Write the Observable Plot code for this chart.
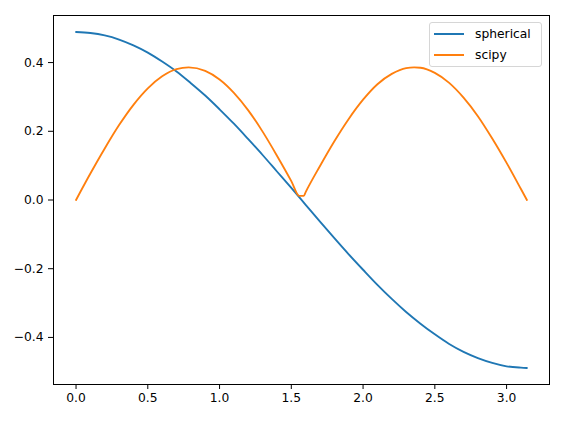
<!DOCTYPE html>
<html>
<head>
<meta charset="utf-8">
<script src="https://cdn.jsdelivr.net/npm/d3@7"></script>
<script src="https://cdn.jsdelivr.net/npm/@observablehq/plot@0.6"></script>
<style>
  body { margin: 0; background: #fff; font-family: "DejaVu Sans", sans-serif; }
  #grafico { position: relative; width: 567px; height: 435px; }
  #leyenda {
    position: absolute; left: 429px; top: 22px; width: 113px; height: 45px;
    box-sizing: border-box; border: 1px solid #d6d6d6; border-radius: 3px;
    background: rgba(255,255,255,0.8); font-size: 12.3px; color: #000;
  }
  .fila { position: absolute; left: 4px; height: 16px; display: flex; align-items: center; }
  .muestra { width: 30px; height: 2px; margin-right: 11px; }
</style>
</head>
<body>
<div id="grafico">
  <div id="leyenda">
    <div class="fila" style="top:3px"><div class="muestra" style="background:#1f77b4"></div>spherical</div>
    <div class="fila" style="top:24px"><div class="muestra" style="background:#ff7f0e"></div>scipy</div>
  </div>
</div>
<script>
// valores
const xSpherical = [0, 0.1, 0.2, 0.3, 0.4, 0.5, 0.6, 0.7, 0.8, 0.9, 1.0, 1.1, 1.2, 1.3, 1.4, 1.5,
  1.6, 1.7, 1.8, 1.9, 2.0, 2.1, 2.2, 2.3, 2.4, 2.5, 2.6, 2.7, 2.8, 2.9, 3.0, 3.1, 3.1416];
const ySpherical = [0.489, 0.486, 0.479, 0.467, 0.450, 0.429, 0.403, 0.374, 0.340, 0.304, 0.264, 0.222, 0.177, 0.131, 0.083, 0.035,
  -0.014, -0.063, -0.111, -0.158, -0.203, -0.247, -0.288, -0.326, -0.360, -0.391, -0.419, -0.442, -0.460, -0.474, -0.484, -0.488, -0.489];

const xScipy = [0, 0.1, 0.2, 0.3, 0.4, 0.5, 0.6, 0.7, 0.785, 0.9, 1.0, 1.1, 1.2, 1.3, 1.4, 1.5, 1.555,
  1.587, 1.6, 1.7, 1.8, 1.9, 2.0, 2.1, 2.2, 2.3, 2.356, 2.4, 2.5, 2.6, 2.7, 2.8, 2.9, 3.0, 3.1, 3.1416];
const yScipy = [0, 0.077, 0.150, 0.218, 0.277, 0.325, 0.360, 0.381, 0.386, 0.376, 0.351, 0.312, 0.261, 0.199, 0.129, 0.055, 0.012,
  0.012, 0.023, 0.099, 0.171, 0.236, 0.292, 0.337, 0.367, 0.384, 0.386, 0.385, 0.370, 0.341, 0.298, 0.244, 0.179, 0.108, 0.032, 0];

const series = ['spherical', 'scipy'];
const colores = ['#1f77b4', '#ff7f0e'];
const xTicks = [0, 0.5, 1.0, 1.5, 2.0, 2.5, 3.0];
const yTicks = [-0.4, -0.2, 0.0, 0.2, 0.4];

let ChartData = [];
xSpherical.forEach((x, i) => ChartData.push({x: x, y: ySpherical[i], serie: 'spherical'}));
xScipy.forEach((x, i) => ChartData.push({x: x, y: yScipy[i], serie: 'scipy'}));

let chart = Plot.plot({
  width: 567,
  height: 435,
  marginLeft: 53,
  marginRight: 18,
  marginTop: 15,
  marginBottom: 51,
  style: {fontFamily: '"DejaVu Sans", sans-serif', fontSize: '12.3px', color: '#000', background: 'transparent'},
  x: {domain: [-0.157, 3.299], label: null},
  y: {domain: [-0.537, 0.537], label: null},
  color: {domain: series, range: colores},
  marks: [
    Plot.frame({stroke: '#000', strokeWidth: 1}),
    Plot.axisX({ticks: xTicks, tickFormat: d3.format('.1f'), tickSize: 5, tickPadding: 4, label: null}),
    Plot.axisY({ticks: yTicks, tickFormat: d3.format('.1f'), tickSize: 5, tickPadding: 5, label: null}),
    Plot.line(ChartData, {x: 'x', y: 'y', z: 'serie', stroke: 'serie', strokeWidth: 1.85, curve: 'monotone-x'})
  ]
});

document.getElementById('grafico').prepend(chart);
</script>
</body>
</html>
